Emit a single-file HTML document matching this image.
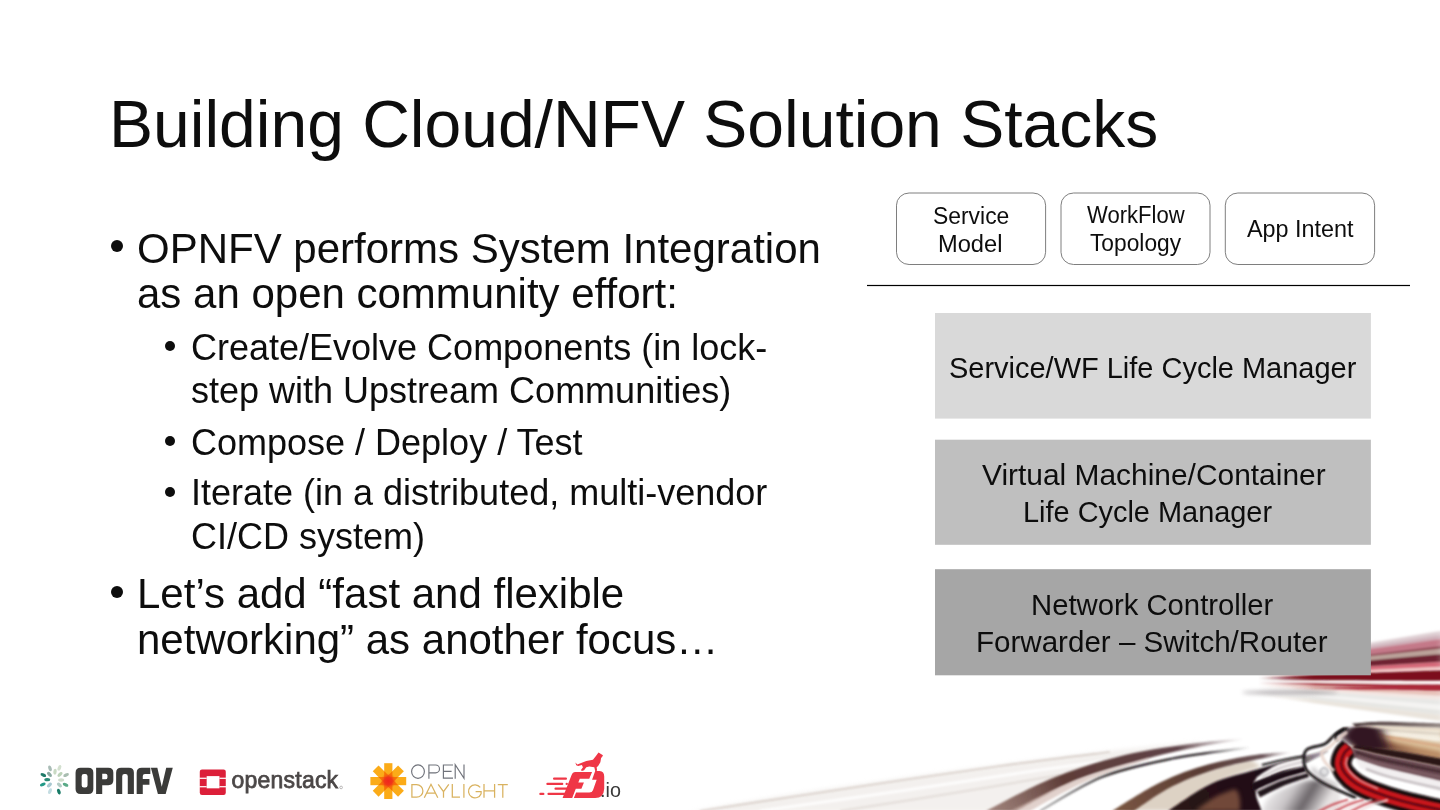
<!DOCTYPE html>
<html>
<head>
<meta charset="utf-8">
<title>Building Cloud/NFV Solution Stacks</title>
<style>
html,body{margin:0;padding:0;background:#fff;}
body{width:1440px;height:810px;position:relative;overflow:hidden;font-family:"Liberation Sans",sans-serif;color:#0d0d0d;}
#stage{position:absolute;left:0;top:0;width:1440px;height:810px;will-change:transform;transform:translateZ(0);}
.t{position:absolute;white-space:nowrap;line-height:1;margin:0;}
#title{left:109px;top:91px;font-size:66px;}
.b1{font-size:42px;}
.b2{font-size:36px;}
.dot{position:absolute;border-radius:50%;background:#0d0d0d;}
.n{position:absolute;white-space:nowrap;line-height:1;transform-origin:0 0;color:#0d0d0d;}
.s1{font-size:23.5px;}
.s2{font-size:29.5px;}
</style>
</head>
<body>
<div id="stage">
<!-- BG-ART-START -->
<svg id="art" width="1440" height="810" viewBox="0 0 1440 810" style="position:absolute;left:0;top:0">
<defs>
<filter id="b1" filterUnits="userSpaceOnUse" x="600" y="600" width="860" height="230"><feGaussianBlur stdDeviation="0.9"/></filter>
<filter id="b2" filterUnits="userSpaceOnUse" x="600" y="600" width="860" height="230"><feGaussianBlur stdDeviation="2"/></filter>
<filter id="b4" filterUnits="userSpaceOnUse" x="600" y="600" width="860" height="230"><feGaussianBlur stdDeviation="4"/></filter>
<filter id="bh" filterUnits="userSpaceOnUse" x="1100" y="600" width="360" height="230"><feGaussianBlur stdDeviation="5 1"/></filter>
<linearGradient id="fadeL" gradientUnits="userSpaceOnUse" x1="1258" y1="0" x2="1315" y2="0">
 <stop offset="0" stop-color="#fff" stop-opacity="0"/><stop offset="1" stop-color="#fff" stop-opacity="1"/></linearGradient>
<mask id="mStreak" maskUnits="userSpaceOnUse" x="1100" y="600" width="340" height="210"><rect x="1100" y="600" width="340" height="210" fill="url(#fadeL)"/></mask>
<linearGradient id="fadeL2" gradientUnits="userSpaceOnUse" x1="1330" y1="0" x2="1440" y2="0">
 <stop offset="0" stop-color="#fff" stop-opacity="0"/><stop offset="1" stop-color="#fff" stop-opacity="1"/></linearGradient>
<mask id="mStreak2" maskUnits="userSpaceOnUse" x="1100" y="600" width="340" height="210"><rect x="1100" y="600" width="340" height="210" fill="url(#fadeL2)"/></mask>
<linearGradient id="gA" gradientUnits="userSpaceOnUse" x1="990" y1="810" x2="1243" y2="739">
 <stop offset="0" stop-color="#8a675e" stop-opacity=".8"/><stop offset=".3" stop-color="#5e3d38"/><stop offset=".75" stop-color="#5e4348"/><stop offset="1" stop-color="#8a7478" stop-opacity="0"/></linearGradient>
<linearGradient id="gB" gradientUnits="userSpaceOnUse" x1="1031" y1="810" x2="1250" y2="748">
 <stop offset="0" stop-color="#777" stop-opacity=".5"/><stop offset=".4" stop-color="#1a1416"/><stop offset=".8" stop-color="#2a2226"/><stop offset="1" stop-color="#555" stop-opacity="0"/></linearGradient>
<linearGradient id="gC" gradientUnits="userSpaceOnUse" x1="1115" y1="810" x2="1290" y2="752">
 <stop offset="0" stop-color="#7a5642"/><stop offset=".5" stop-color="#5a3c34"/><stop offset=".85" stop-color="#6a5458"/><stop offset="1" stop-color="#8a7478" stop-opacity="0"/></linearGradient>
<linearGradient id="gD" gradientUnits="userSpaceOnUse" x1="1180" y1="810" x2="1330" y2="750">
 <stop offset="0" stop-color="#2a1418"/><stop offset=".7" stop-color="#1c0c12"/><stop offset="1" stop-color="#1c0c12" stop-opacity=".2"/></linearGradient>
<linearGradient id="gSil" gradientUnits="userSpaceOnUse" x1="1262" y1="784" x2="1318" y2="818">
 <stop offset="0" stop-color="#fff"/><stop offset=".45" stop-color="#c8c4c6"/><stop offset=".7" stop-color="#6a6468"/><stop offset="1" stop-color="#e8e4e4"/></linearGradient>
<linearGradient id="gTan" gradientUnits="userSpaceOnUse" x1="1400" y1="724" x2="1392" y2="770">
 <stop offset="0" stop-color="#5c4a48"/><stop offset=".12" stop-color="#8a7a74"/><stop offset=".2" stop-color="#f1eadc"/><stop offset=".42" stop-color="#e3d2b8"/><stop offset=".62" stop-color="#b88e6a"/><stop offset=".78" stop-color="#6e3f30"/><stop offset=".9" stop-color="#2c1216"/><stop offset="1" stop-color="#241014"/></linearGradient>
<linearGradient id="gT3" gradientUnits="userSpaceOnUse" x1="1404" y1="745" x2="1400" y2="755"><stop offset="0" stop-color="#b98a64"/><stop offset="1" stop-color="#5a2e26"/></linearGradient><filter id="bhb" filterUnits="userSpaceOnUse" x="1300" y="700" width="160" height="110"><feGaussianBlur stdDeviation="5 1.3"/></filter><linearGradient id="gT0" gradientUnits="userSpaceOnUse" x1="1352" y1="0" x2="1442" y2="0"><stop offset="0" stop-color="#3e2c2e"/><stop offset=".5" stop-color="#5a4a4a"/><stop offset="1" stop-color="#8f8380"/></linearGradient><linearGradient id="gMain" gradientUnits="userSpaceOnUse" x1="1262" y1="0" x2="1312" y2="0"><stop offset="0" stop-color="#7c0c1c" stop-opacity="0"/><stop offset="1" stop-color="#7c0c1c"/></linearGradient><linearGradient id="gMain2" gradientUnits="userSpaceOnUse" x1="1290" y1="0" x2="1350" y2="0"><stop offset="0" stop-color="#aa2838" stop-opacity="0"/><stop offset="1" stop-color="#aa2838"/></linearGradient></defs>
<path d="M690.0 812.0C708.3 808.8 755.0 800.0 800.0 793.0C845.0 786.0 910.0 776.8 960.0 770.0C1010.0 763.2 1060.0 756.7 1100.0 752.0C1140.0 747.3 1183.3 743.7 1200.0 742.0L1200.0 746.0C1188.3 748.3 1153.3 754.0 1130.0 760.0C1106.7 766.0 1081.7 773.3 1060.0 782.0C1038.3 790.7 1010.0 807.0 1000.0 812.0Z" fill="#e9e4e0" opacity=".55" filter="url(#b2)"/>
<path d="M700.0 811.0C725.0 807.2 800.0 795.5 850.0 788.0C900.0 780.5 956.7 772.0 1000.0 766.0C1043.3 760.0 1091.7 754.3 1110.0 752.0" fill="none" stroke="#c9bcb4" stroke-width="1.6" opacity=".7" filter="url(#b1)"/>
<path d="M760.0 811.0C783.3 807.7 853.3 797.8 900.0 791.0C946.7 784.2 1003.3 775.3 1040.0 770.0C1076.7 764.7 1106.7 760.8 1120.0 759.0" fill="none" stroke="#fff" stroke-width="3" opacity=".8" filter="url(#b1)"/>
<path d="M840.0 811.0C860.0 807.8 923.3 798.0 960.0 792.0C996.7 786.0 1043.3 777.8 1060.0 775.0" fill="none" stroke="#d8d0ca" stroke-width="2" opacity=".6" filter="url(#b1)"/>
<path d="M986.0 811.0C997.3 805.4 1030.8 786.8 1054.0 777.5C1077.2 768.2 1101.3 760.7 1125.0 755.0C1148.7 749.3 1176.3 745.9 1196.0 743.2C1215.7 740.5 1235.2 739.4 1243.0 738.6L1243.0 740.0C1235.8 741.1 1215.7 743.6 1200.0 746.6C1184.3 749.6 1169.5 752.5 1149.0 758.0C1128.5 763.5 1099.2 771.0 1077.0 779.8C1054.8 788.6 1026.2 805.8 1016.0 811.0Z" fill="url(#gA)" filter="url(#b1)"/>
<path d="M1010.0 811.0C1021.0 805.8 1052.8 788.9 1076.0 780.0C1099.2 771.1 1136.8 761.2 1149.0 757.5L1149.0 759.0C1138.5 762.8 1105.8 772.8 1086.0 781.5C1066.2 790.2 1039.3 806.1 1030.0 811.0Z" fill="#cdb3aa" opacity=".6" filter="url(#b1)"/>
<path d="M1040.0 811.0C1050.3 805.3 1079.9 785.8 1102.0 777.0C1124.1 768.2 1149.0 763.3 1172.5 758.5C1196.0 753.7 1228.1 750.4 1243.0 748.4C1257.9 746.4 1258.8 746.8 1262.0 746.5" fill="none" stroke="url(#gB)" stroke-width="2.2" filter="url(#b1)"/>
<path d="M1128.0 811.0C1135.0 806.7 1155.5 792.2 1170.0 785.0C1184.5 777.8 1201.7 772.3 1215.0 768.0C1228.3 763.7 1244.2 760.5 1250.0 759.0L1262.0 767.0C1258.3 768.2 1249.0 770.5 1240.0 774.0C1231.0 777.5 1218.0 781.8 1208.0 788.0C1198.0 794.2 1184.7 807.2 1180.0 811.0Z" fill="#ddd2c4" filter="url(#b2)"/>
<path d="M1112.0 811.0C1120.1 806.2 1144.7 789.9 1160.7 782.2C1176.7 774.5 1192.3 769.1 1208.0 764.6C1223.7 760.1 1241.0 757.2 1255.0 755.0C1269.0 752.8 1285.8 752.1 1292.0 751.5L1292.0 752.7C1280.5 755.1 1242.8 761.7 1223.0 767.2C1203.2 772.8 1187.8 778.7 1173.0 786.0C1158.2 793.3 1140.5 806.8 1134.0 811.0Z" fill="url(#gC)" filter="url(#b1)"/>
<path d="M1168.0 811.0C1175.3 806.4 1196.8 790.5 1211.7 783.5C1226.6 776.5 1242.3 773.7 1257.5 769.2C1272.7 764.7 1291.2 759.8 1303.0 756.5C1314.8 753.2 1323.8 750.7 1328.0 749.5L1328.0 752.0C1323.3 754.3 1310.0 761.3 1300.0 766.0C1290.0 770.7 1275.3 775.7 1268.0 780.0C1260.7 784.3 1257.0 786.8 1256.0 792.0C1255.0 797.2 1261.0 807.8 1262.0 811.0Z" fill="url(#gD)" filter="url(#b1)"/>
<path d="M1195.0 811.0C1198.3 808.7 1208.3 800.7 1215.0 797.0C1221.7 793.3 1231.7 790.3 1235.0 789.0L1238.0 792.0C1238.3 793.3 1239.7 796.8 1240.0 800.0C1240.3 803.2 1240.0 809.2 1240.0 811.0Z" fill="#7a4f3c" opacity=".9" filter="url(#b2)"/>
<path d="M1257.0 777.0C1259.2 775.6 1265.8 770.9 1270.0 768.5C1274.2 766.1 1276.3 764.7 1282.0 762.8C1287.7 760.9 1300.3 758.1 1304.0 757.2L1306.0 766.0C1302.0 766.9 1288.3 769.6 1282.0 771.5C1275.7 773.4 1272.8 775.4 1268.0 777.5C1263.2 779.6 1255.5 782.9 1253.0 784.0Z" fill="#f6f3f3" filter="url(#b1)"/>
<path d="M1262.0 777.0C1265.3 775.4 1275.0 770.1 1282.0 767.5C1289.0 764.9 1300.3 762.5 1304.0 761.5" fill="none" stroke="#b9b2b4" stroke-width="1.6" filter="url(#b1)" opacity=".7"/>
<path d="M1251.6 783.4C1254.2 782.4 1261.9 779.4 1267.0 777.5C1272.1 775.6 1275.7 773.9 1282.0 772.0C1288.3 770.1 1301.2 767.2 1305.0 766.3L1306.0 772.0C1302.0 773.2 1288.3 777.0 1282.0 779.2C1275.7 781.4 1272.8 783.0 1268.0 785.0C1263.2 787.0 1255.5 790.4 1253.0 791.5Z" fill="#1e0e14" filter="url(#b1)"/>
<path d="M1255.0 791.5C1259.5 789.5 1273.3 782.9 1282.0 779.8C1290.7 776.6 1302.8 773.8 1307.0 772.6" fill="none" stroke="#cdbfc2" stroke-width="1.3" filter="url(#b1)" opacity=".85"/>
<path d="M1257.0 791.5C1261.2 789.7 1273.5 783.7 1282.0 780.6C1290.5 777.5 1303.7 774.3 1308.0 773.0L1309.0 777.0C1304.5 778.6 1290.2 783.3 1282.0 786.7C1273.8 790.1 1263.7 795.7 1260.0 797.5Z" fill="#24121a" filter="url(#b1)"/>
<path d="M1262.0 812.0C1263.0 809.7 1263.3 802.3 1268.0 798.0C1272.7 793.7 1282.2 789.0 1290.0 786.0C1297.8 783.0 1306.7 779.3 1315.0 780.0C1323.3 780.7 1335.8 788.3 1340.0 790.0L1340.0 813.0C1333.3 813.0 1313.0 813.0 1300.0 813.0C1287.0 813.0 1268.3 813.0 1262.0 813.0Z" fill="url(#gSil)" filter="url(#b2)"/>
<path d="M1356.0 727.0C1359.8 726.8 1370.0 726.0 1379.0 726.0C1388.0 726.0 1399.5 726.8 1410.0 727.2C1420.5 727.6 1436.7 728.2 1442.0 728.4L1442.0 767.0C1436.7 765.9 1420.5 762.6 1410.0 760.5C1399.5 758.4 1388.7 756.6 1379.0 754.5C1369.3 752.4 1356.5 749.1 1352.0 748.0Z" fill="#c9a47e" filter="url(#b2)"/>
<path d="M1352.0 723.6C1356.5 723.3 1369.3 721.9 1379.0 721.7C1388.7 721.5 1399.5 722.2 1410.0 722.5C1420.5 722.8 1436.7 723.2 1442.0 723.4L1442.0 728.4C1436.7 728.2 1420.5 727.6 1410.0 727.2C1399.5 726.8 1388.0 726.0 1379.0 726.0C1370.0 726.0 1359.8 726.8 1356.0 727.0Z" fill="url(#gT0)" filter="url(#b1)"/>
<path d="M1356.0 727.0C1359.8 726.8 1370.0 726.0 1379.0 726.0C1388.0 726.0 1399.5 726.8 1410.0 727.2C1420.5 727.6 1436.7 728.2 1442.0 728.4L1442.0 744.4C1436.7 743.6 1420.5 741.2 1410.0 739.5C1399.5 737.8 1386.3 735.7 1379.0 734.3C1371.7 732.9 1368.2 731.5 1366.0 731.0Z" fill="#f1eadc" filter="url(#b2)"/>
<path d="M1366.0 731.0C1368.2 731.5 1371.7 732.9 1379.0 734.3C1386.3 735.7 1399.5 737.8 1410.0 739.5C1420.5 741.2 1436.7 743.6 1442.0 744.4L1442.0 752.8C1436.7 751.7 1420.5 748.3 1410.0 746.0C1399.5 743.7 1386.7 740.8 1379.0 739.0C1371.3 737.2 1366.5 735.7 1364.0 735.0Z" fill="#dcc09a" filter="url(#b2)"/>
<path d="M1364.0 735.0C1366.5 735.7 1371.3 737.2 1379.0 739.0C1386.7 740.8 1399.5 743.7 1410.0 746.0C1420.5 748.3 1436.7 751.7 1442.0 752.8L1442.0 758.7C1436.7 757.8 1420.5 754.9 1410.0 753.0C1399.5 751.1 1387.3 749.6 1379.0 747.6C1370.7 745.6 1363.2 742.1 1360.0 741.0Z" fill="url(#gT3)" filter="url(#b2)"/>
<path d="M1354.0 757.0C1358.2 758.5 1369.7 763.2 1379.0 766.0C1388.3 768.8 1399.5 771.0 1410.0 773.5C1420.5 776.0 1436.7 779.8 1442.0 781.0L1442.0 792.0C1436.7 790.6 1420.5 786.2 1410.0 783.5C1399.5 780.8 1387.3 778.1 1379.0 775.5C1370.7 772.9 1363.2 769.2 1360.0 768.0Z" fill="#f2eff0" filter="url(#b1)"/>
<path d="M1366.0 732.5C1368.2 733.0 1371.7 734.1 1379.0 735.5C1386.3 736.9 1399.5 739.2 1410.0 741.0C1420.5 742.8 1436.7 745.6 1442.0 746.5" fill="none" stroke="#d89a78" stroke-width="1.4" filter="url(#b1)" opacity=".8"/>
<path d="M1372.0 729.5C1376.7 729.8 1388.3 730.2 1400.0 731.0C1411.7 731.8 1435.0 733.5 1442.0 734.0" fill="none" stroke="#b9aa9c" stroke-width="1.2" filter="url(#b1)" opacity=".7"/>
<path d="M1385.0 733.5C1389.2 733.9 1400.5 735.0 1410.0 736.0C1419.5 737.0 1436.7 738.9 1442.0 739.5" fill="none" stroke="#fbf7ee" stroke-width="1.6" filter="url(#b1)" opacity=".9"/>
<path d="M1350.0 747.5C1349.0 748.5 1345.5 750.8 1344.0 753.5C1342.5 756.2 1340.8 760.6 1341.0 763.9C1341.2 767.2 1342.5 770.1 1345.0 773.4C1347.5 776.6 1351.0 780.2 1356.0 783.4C1361.0 786.5 1367.3 789.4 1375.0 792.3C1382.7 795.2 1391.0 798.0 1402.0 801.0C1413.0 804.0 1434.5 808.5 1441.0 810.0" fill="none" stroke="#14080b" stroke-width="21" filter="url(#b1)"/>
<path d="M1350.0 747.5C1349.0 748.5 1345.5 750.8 1344.0 753.5C1342.5 756.2 1340.8 760.6 1341.0 763.9C1341.2 767.2 1342.5 770.1 1345.0 773.4C1347.5 776.6 1351.0 780.2 1356.0 783.4C1361.0 786.5 1367.3 789.4 1375.0 792.3C1382.7 795.2 1391.0 798.0 1402.0 801.0C1413.0 804.0 1434.5 808.5 1441.0 810.0" fill="none" stroke="#c8141f" stroke-width="12.5" filter="url(#b1)"/>
<path d="M1350.0 747.5C1349.0 748.5 1345.5 750.8 1344.0 753.5C1342.5 756.2 1340.8 760.6 1341.0 763.9C1341.2 767.2 1342.5 770.1 1345.0 773.4C1347.5 776.6 1351.0 780.2 1356.0 783.4C1361.0 786.5 1367.3 789.4 1375.0 792.3C1382.7 795.2 1391.0 798.0 1402.0 801.0C1413.0 804.0 1434.5 808.5 1441.0 810.0" fill="none" stroke="#4a060c" stroke-width="2" filter="url(#b1)"/>
<path d="M1347.5 757.0C1347.2 758.2 1345.6 762.0 1346.0 764.5C1346.4 767.0 1347.7 769.3 1350.0 772.0C1352.3 774.7 1355.3 777.7 1360.0 780.5C1364.7 783.3 1375.0 787.4 1378.0 788.8" fill="none" stroke="#f4dcdc" stroke-width="1.3" filter="url(#b1)" opacity=".85"/>
<path d="M1360.0 741.0C1363.2 742.1 1370.7 745.6 1379.0 747.6C1387.3 749.6 1399.5 751.1 1410.0 753.0C1420.5 754.9 1436.7 757.8 1442.0 758.7L1442.0 767.0C1436.7 765.9 1420.5 762.6 1410.0 760.5C1399.5 758.4 1388.7 756.6 1379.0 754.5C1369.3 752.4 1356.5 749.1 1352.0 748.0Z" fill="#2a1218" filter="url(#b1)"/>
<path d="M1352.0 748.0C1356.5 749.1 1369.3 752.4 1379.0 754.5C1388.7 756.6 1399.5 758.4 1410.0 760.5C1420.5 762.6 1436.7 765.9 1442.0 767.0L1442.0 781.0C1436.7 779.8 1420.5 776.0 1410.0 773.5C1399.5 771.0 1388.3 768.8 1379.0 766.0C1369.7 763.2 1358.2 758.5 1354.0 757.0Z" fill="#6b4c52" filter="url(#b1)"/>
<path d="M1356.0 752.0C1359.8 753.2 1370.0 756.8 1379.0 759.0C1388.0 761.2 1399.5 763.3 1410.0 765.5C1420.5 767.7 1436.7 770.9 1442.0 772.0" fill="none" stroke="#3a2228" stroke-width="2" filter="url(#b1)"/>
<path d="M1358.0 757.0C1361.5 758.1 1370.3 761.2 1379.0 763.5C1387.7 765.8 1399.5 768.2 1410.0 770.5C1420.5 772.8 1436.7 776.3 1442.0 777.5" fill="none" stroke="#8a6a70" stroke-width="1.5" filter="url(#b1)"/>
<path d="M1366.0 769.0C1370.0 770.3 1377.3 773.7 1390.0 777.0C1402.7 780.3 1433.3 787.0 1442.0 789.0" fill="none" stroke="#b0a8ac" stroke-width="2.2" filter="url(#b1)" opacity=".75"/>
<path d="M1342.0 734.0C1343.2 733.0 1345.3 729.2 1349.0 728.0C1352.7 726.8 1358.5 726.2 1364.0 726.5C1369.5 726.8 1379.0 729.0 1382.0 729.5L1388.0 749.0C1384.3 748.8 1372.0 748.2 1366.0 747.5C1360.0 746.8 1356.0 746.6 1352.0 745.0C1348.0 743.4 1343.7 739.2 1342.0 738.0Z" fill="#331824" filter="url(#bhb)"/>
<path d="M1337.0 741.0C1336.8 740.1 1334.8 737.2 1335.5 735.5C1336.2 733.8 1338.9 732.2 1341.0 731.0C1343.1 729.8 1346.8 728.9 1348.0 728.5" fill="none" stroke="#120a0c" stroke-width="2.6" filter="url(#b1)"/>
<path d="M1345.0 728.5C1343.2 729.7 1337.4 732.9 1334.0 735.5C1330.6 738.1 1329.3 741.7 1324.8 744.0C1320.3 746.3 1310.5 746.9 1307.0 749.5C1303.5 752.1 1303.8 756.3 1303.8 759.8C1303.8 763.3 1304.2 767.0 1307.0 770.6C1309.8 774.2 1315.8 778.3 1320.8 781.5C1325.8 784.7 1331.1 787.0 1337.0 789.7C1342.9 792.4 1352.8 796.4 1356.0 797.8" fill="none" stroke="#161012" stroke-width="2.8" filter="url(#b1)"/>
<path d="M1347.0 732.0C1345.5 733.2 1340.8 736.6 1338.0 739.0C1335.2 741.4 1332.7 744.3 1330.0 746.5C1327.3 748.7 1322.8 749.4 1322.0 752.0C1321.2 754.6 1323.0 758.8 1325.0 762.0C1327.0 765.2 1332.5 769.5 1334.0 771.0" fill="none" stroke="#ead6cc" stroke-width="3.2" filter="url(#b1)" opacity=".9"/>
<path d="M1312.0 768.0C1313.7 769.7 1317.7 775.0 1322.0 778.0C1326.3 781.0 1335.3 784.7 1338.0 786.0" fill="none" stroke="#9a9498" stroke-width="3.5" filter="url(#b2)" opacity=".6"/>
<circle cx="1324.2" cy="771.8" r="4.2" fill="#8a8a90" fill-opacity=".28" stroke="#85858c" stroke-width="1" opacity=".9" filter="url(#b1)"/>
<path d="M1262.0 765.0C1265.8 764.1 1278.0 761.0 1285.0 759.5C1292.0 758.0 1300.8 756.6 1304.0 756.0" fill="none" stroke="#1a1216" stroke-width="2" filter="url(#b1)"/>
<path d="M1318.0 812.0C1320.3 810.8 1327.0 807.0 1332.0 805.0C1337.0 803.0 1345.3 800.8 1348.0 800.0" fill="none" stroke="#c43a44" stroke-width="2.4" filter="url(#b1)" opacity=".85"/>
<path d="M1326.0 812.0C1328.3 810.8 1335.0 807.0 1340.0 805.0C1345.0 803.0 1353.3 800.8 1356.0 800.0" fill="none" stroke="#f1dede" stroke-width="2.4" filter="url(#b1)" opacity=".85"/>
<path d="M1334.0 812.0C1336.3 810.8 1343.0 807.0 1348.0 805.0C1353.0 803.0 1361.3 800.8 1364.0 800.0" fill="none" stroke="#c43a44" stroke-width="2.4" filter="url(#b1)" opacity=".85"/>
<path d="M1342.0 812.0C1344.3 810.8 1351.0 807.0 1356.0 805.0C1361.0 803.0 1369.3 800.8 1372.0 800.0" fill="none" stroke="#f1dede" stroke-width="2.4" filter="url(#b1)" opacity=".85"/>
<path d="M1350.0 812.0C1352.3 810.8 1359.0 807.0 1364.0 805.0C1369.0 803.0 1377.3 800.8 1380.0 800.0" fill="none" stroke="#c43a44" stroke-width="2.4" filter="url(#b1)" opacity=".85"/>
<path d="M1358.0 812.0C1360.3 810.8 1367.0 807.0 1372.0 805.0C1377.0 803.0 1385.3 800.8 1388.0 800.0" fill="none" stroke="#f1dede" stroke-width="2.4" filter="url(#b1)" opacity=".85"/>
<g mask="url(#mStreak)" filter="url(#bh)"><polygon points="1150,680 1445,630.2 1445,634.2" fill="#d4c0c6" opacity="0.8"/><polygon points="1150,680 1445,634.2 1445,638.3" fill="#c9a9b2" opacity="0.9"/><polygon points="1150,680 1445,638.3 1445,645.4" fill="#c47888" opacity="1"/><polygon points="1150,680 1445,645.4 1445,648.5" fill="#8a3a48" opacity="1"/><polygon points="1150,680 1445,648.5 1445,653.6" fill="#bba39a" opacity="1"/><polygon points="1150,680 1445,653.6 1445,661.7" fill="#6e2232" opacity="1"/><polygon points="1150,680 1445,661.7 1445,666.8" fill="#d66878" opacity="1"/><polygon points="1150,680 1445,666.8 1445,670.8" fill="#f0c4c4" opacity="1"/><polygon points="1150,680 1445,670.8 1445,680.0" fill="#7c0c1c" opacity="1"/><polygon points="1150,680 1445,680.0 1445,685.1" fill="#faeeee" opacity="1"/><polygon points="1150,680 1445,685.1 1445,690.2" fill="#aa2838" opacity="1"/><polygon points="1150,680 1445,690.2 1445,696.3" fill="#e8c2ba" opacity="1"/><polygon points="1150,680 1445,696.3 1445,700.3" fill="#f3e6e2" opacity="1"/><polygon points="1150,680 1445,700.3 1445,705.4" fill="#e6e6e3" opacity="0.9"/><polygon points="1150,680 1445,705.4 1445,710.5" fill="#f3f2f1" opacity="0.9"/><polygon points="1150,680 1445,710.5 1445,715.6" fill="#e3e3e0" opacity="0.9"/><polygon points="1150,680 1445,715.6 1445,721.7" fill="#e8e1d8" opacity="0.9"/></g>
<path d="M1262.0 678.0C1268.3 677.7 1282.0 676.7 1300.0 676.0C1318.0 675.3 1346.3 674.4 1370.0 673.6C1393.7 672.8 1430.0 671.4 1442.0 671.0L1442.0 680.3C1430.0 680.2 1393.7 680.1 1370.0 680.0C1346.3 679.9 1318.0 679.8 1300.0 679.6C1282.0 679.4 1268.3 678.9 1262.0 678.8Z" fill="url(#gMain)" filter="url(#b1)"/>
<path d="M1290.0 687.8C1303.3 687.6 1344.7 686.9 1370.0 686.4C1395.3 685.9 1430.0 685.2 1442.0 685.0L1442.0 690.2C1430.0 690.1 1395.3 689.7 1370.0 689.4C1344.7 689.1 1303.3 688.6 1290.0 688.4Z" fill="url(#gMain2)" filter="url(#b1)"/>
<ellipse cx="1290" cy="692.5" rx="48" ry="1.8" fill="#8f888c" opacity=".75" filter="url(#b2)"/>
</svg>
<!-- BG-ART-END -->
<div id="title" class="t">Building Cloud/NFV Solution Stacks</div>

<!-- LEFT-TEXT -->
<div class="dot" style="left:111px;top:240px;width:12px;height:12px"></div>
<div class="t b1" style="left:137px;top:228px">OPNFV performs System Integration</div>
<div class="t b1" style="left:137px;top:273px">as an open community effort:</div>

<div class="dot" style="left:165px;top:341px;width:10px;height:10px"></div>
<div class="t b2" style="left:191px;top:329.5px">Create/Evolve Components (in lock-</div>
<div class="t b2" style="left:191px;top:373px">step with Upstream Communities)</div>
<div class="dot" style="left:165px;top:436px;width:10px;height:10px"></div>
<div class="t b2" style="left:191px;top:425px">Compose / Deploy / Test</div>
<div class="dot" style="left:165px;top:487px;width:10px;height:10px"></div>
<div class="t b2" style="left:191px;top:475px">Iterate (in a distributed, multi-vendor</div>
<div class="t b2" style="left:191px;top:519px">CI/CD system)</div>

<div class="dot" style="left:111px;top:586px;width:12px;height:12px"></div>
<div class="t b1" style="left:137px;top:573px">Let’s add “fast and flexible</div>
<div class="t b1" style="left:137px;top:619px">networking” as another focus…</div>

<!-- RIGHT-DIAGRAM -->
<svg width="1440" height="810" viewBox="0 0 1440 810" style="position:absolute;left:0;top:0">
<g fill="#fff" stroke="#6f6f6f" stroke-width=".9">
<rect x="896.5" y="193" width="149.1" height="71.5" rx="12.6" ry="12.2"/>
<rect x="1061" y="193" width="149" height="71.5" rx="12.6" ry="12.2"/>
<rect x="1225.3" y="193" width="149.3" height="71.5" rx="12.6" ry="12.2"/>
</g>
<rect x="867" y="284.9" width="543" height="1.2" fill="#000"/>
<rect x="935" y="313" width="435.9" height="105.6" fill="#d9d9d9"/>
<rect x="935" y="439.7" width="435.9" height="105.1" fill="#bfbfbf"/>
<rect x="935" y="569.2" width="435.9" height="106.1" fill="#a6a6a6"/>
</svg>

<div class="n s1" style="left:933px;top:204.5px;transform:scaleX(.974)">Service</div>
<div class="n s1" style="left:938.4px;top:233px;transform:scaleX(1.007)">Model</div>
<div class="n s1" style="left:1086.6px;top:204.2px;transform:scaleX(.938)">WorkFlow</div>
<div class="n s1" style="left:1089.6px;top:232.2px;transform:scaleX(.968)">Topology</div>
<div class="n s1" style="left:1246.5px;top:218px;transform:scaleX(.995)">App Intent</div>
<div class="n s2" style="left:949.3px;top:352.5px;transform:scaleX(.982)">Service/WF Life Cycle Manager</div>
<div class="n s2" style="left:981.6px;top:460.3px;transform:scaleX(1.014)">Virtual Machine/Container</div>
<div class="n s2" style="left:1023.3px;top:496.9px;transform:scaleX(.980)">Life Cycle Manager</div>
<div class="n s2" style="left:1031px;top:590.3px;transform:scaleX(.992)">Network Controller</div>
<div class="n s2" style="left:976.4px;top:626.9px;transform:scaleX(1.002)">Forwarder – Switch/Router</div>

<!-- LOGOS-START -->
<svg id="logos" width="1440" height="810" viewBox="0 0 1440 810" style="position:absolute;left:0;top:0">
<g transform="translate(30,755) scale(0.11111)"><ellipse cx="120" cy="180" rx="27" ry="15" fill="#1f7a68" transform="rotate(-156 120 180)"/><ellipse cx="155" cy="222" rx="27" ry="15" fill="#2a8a76" transform="rotate(-177 155 222)"/><ellipse cx="115" cy="265" rx="27" ry="15" fill="#239a88" transform="rotate(159 115 265)"/><ellipse cx="260" cy="330" rx="27" ry="15" fill="#177a66" transform="rotate(69 260 330)"/><ellipse cx="175" cy="175" rx="27" ry="15" fill="#8aa8a0" transform="rotate(-132 175 175)"/><ellipse cx="180" cy="120" rx="27" ry="15" fill="#a9bcb6" transform="rotate(-111 180 120)"/><ellipse cx="225" cy="150" rx="27" ry="15" fill="#c9dac4" transform="rotate(-86 225 150)"/><ellipse cx="265" cy="115" rx="27" ry="15" fill="#d3e0cf" transform="rotate(-68 265 115)"/><ellipse cx="270" cy="175" rx="27" ry="15" fill="#bcd2b8" transform="rotate(-45 270 175)"/><ellipse cx="280" cy="225" rx="27" ry="15" fill="#cfdccb" transform="rotate(0 280 225)"/><ellipse cx="325" cy="180" rx="27" ry="15" fill="#a8bdb0" transform="rotate(-23 325 180)"/><ellipse cx="320" cy="268" rx="27" ry="15" fill="#5aaa88" transform="rotate(23 320 268)"/><ellipse cx="265" cy="270" rx="27" ry="15" fill="#b5ccc6" transform="rotate(45 265 270)"/><ellipse cx="175" cy="270" rx="27" ry="15" fill="#a8c8d0" transform="rotate(135 175 270)"/><ellipse cx="180" cy="325" rx="27" ry="15" fill="#c4dde2" transform="rotate(112 180 325)"/><path fill="#3b3b39" fill-rule="evenodd" d="M455 115H525Q570 115 570 160V305Q570 350 525 350H455Q410 350 410 305V160Q410 115 455 115ZM485 172Q465 172 465 192V273Q465 293 485 293H498Q518 293 518 273V192Q518 172 498 172Z"/><path fill="#3b3b39" fill-rule="evenodd" d="M595 115H705Q750 115 750 160V228Q750 272 705 272H650V350H595ZM650 168V219H680Q697 219 697 202V185Q697 168 680 168Z"/><path fill="#3b3b39" d="M775 350V160Q775 115 820 115H890Q935 115 935 160V350H880V192Q880 172 860 172H850Q830 172 830 192V350Z"/><path fill="#3b3b39" d="M960 350V160Q960 115 1005 115H1083V170H1035Q1015 170 1015 190V215H1075V268H1015V350Z"/><path fill="#3b3b39" d="M1088 115H1146L1186 285L1226 115H1285L1221 350H1151Z"/></g>
<g transform="translate(190,755) scale(0.11111)"><rect x="88" y="130" width="234" height="230" rx="20" fill="#dc1f39"/><rect x="150" y="190" width="115" height="110" fill="#fff"/><rect x="84" y="204" width="66" height="11" fill="#fff"/><rect x="265" y="204" width="62" height="11" fill="#fff"/><rect x="84" y="280" width="66" height="11" fill="#fff"/><rect x="265" y="280" width="62" height="11" fill="#fff"/><circle cx="1360" cy="292" r="12" fill="none" stroke="#8a8686" stroke-width="5"/></g>
<g><g style="isolation:isolate"><defs><radialGradient id="sunc"><stop offset="0" stop-color="#f0261c"/><stop offset=".45" stop-color="#f0341c" stop-opacity=".95"/><stop offset="1" stop-color="#f2601c" stop-opacity="0"/></radialGradient></defs><rect x="370.4" y="777.0" width="35.8" height="8.2" fill="#fbab18" style="mix-blend-mode:multiply" transform="rotate(0 388.3 781.1)"/><rect x="370.4" y="777.0" width="35.8" height="8.2" fill="#fbab18" style="mix-blend-mode:multiply" transform="rotate(45 388.3 781.1)"/><rect x="370.4" y="777.0" width="35.8" height="8.2" fill="#fbab18" style="mix-blend-mode:multiply" transform="rotate(90 388.3 781.1)"/><rect x="370.4" y="777.0" width="35.8" height="8.2" fill="#fbab18" style="mix-blend-mode:multiply" transform="rotate(135 388.3 781.1)"/></g><circle cx="388.3" cy="781.1" r="8" fill="url(#sunc)"/><g fill="none" stroke="#6f727a" stroke-width="1.15"><ellipse cx="418" cy="771.6" rx="6.4" ry="6.7"/><path d="M428.9 778.7V765H435.6a3.9 3.9 0 0 1 0 7.8H428.9"/><path d="M453 765H443.4V778.1H453M443.4 771.4H451.6"/><path d="M455.2 778.7V764.6L464 778.4V764.4"/></g><g fill="none" stroke="#d9b25f" stroke-width="1.25"><path d="M411.9 784.6V797.2H416.6a6.3 6.3 0 0 0 0 -12.6Z"/><path d="M424.3 797.8L431 784.3L437.8 797.8M426.6 793.2H435.4"/><path d="M438.2 784.3L443.5 791.6L448.8 784.3M443.5 791.6V797.8"/><path d="M452.3 784V797.2H460"/><path d="M463.9 784V797.8"/><path d="M480.2 787.4a6.5 6.5 0 1 0 0.9 6.3V791.6H475.6"/><path d="M484 784V797.8M494.6 784V797.8M484 790.8H494.6"/><path d="M497.8 784.6H507.8M502.8 784.6V797.8"/></g></g>
<g transform="translate(530,745) scale(0.074074)" fill="#ef3646"><rect x="310" y="440" width="190" height="30" rx="15"/><rect x="220" y="510" width="230" height="30" rx="15"/><rect x="480" y="510" width="32" height="30" rx="15"/><rect x="330" y="575" width="190" height="30" rx="15"/><rect x="125" y="645" width="70" height="30" rx="15"/><rect x="235" y="645" width="285" height="30" rx="15"/><path d="M610 365H838L800 455H672L652 505H728L694 592H618L570 715H440L560 410Q578 365 610 365Z"/><path fill-rule="evenodd" d="M880 352H940Q1002 356 1002 425V590Q995 715 880 715H592L622 640H800Q840 640 850 610L900 470H838ZM0 0Z"/><path d="M612 235L640 262L690 242L760 215L850 200L890 150L925 100L985 137L975 160L960 176L950 232L920 282L900 300L906 346L880 352L868 302L800 290L760 300L730 340L700 352L688 336L715 300L700 270L650 282L625 272Z"/></g>
</svg>
<div class="t" style="left:231.5px;top:768.8px;font-size:23px;color:#4b4747;-webkit-text-stroke:.75px #4b4747;letter-spacing:.22px">openstack</div>
<div class="t" style="left:600px;top:781.2px;font-size:19.8px;color:#3a3a3a">.io</div>
<!-- LOGOS-END -->
</div>
</body>
</html>
